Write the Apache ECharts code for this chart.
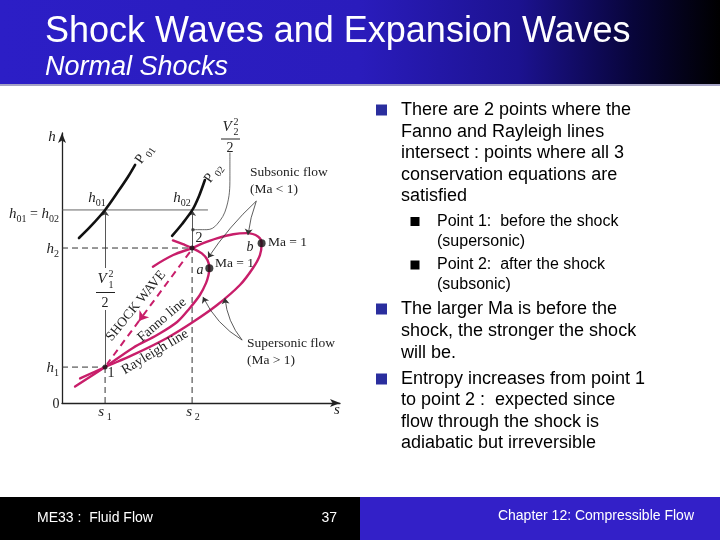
<!DOCTYPE html>
<html><head><meta charset="utf-8">
<script src="https://cdn.jsdelivr.net/npm/echarts@6/dist/echarts.min.js"></script>
<style>html,body{margin:0;padding:0;background:#fff}#main{width:720px;height:540px}</style>
</head><body><div id="main"></div>
<script>
// ---------- data (entropy s, enthalpy h in diagram units) ----------
const fannoS = [0.47, 1.55, 2.55, 3.42, 4.14, 4.60, 4.96, 5.18, 5.27, 5.30, 5.23, 5.03, 4.68, 4.35, 3.99];
const fannoH = [0.61, 1.33, 2.04, 2.52, 3.00, 3.52, 4.00, 4.44, 4.74, 4.99, 5.30, 5.54, 5.74, 5.88, 6.02];
const rayleighS = [0.65, 1.55, 2.55, 3.78, 4.71, 5.58, 6.40, 6.87, 7.12, 7.18, 7.06, 6.64, 6.16, 5.57, 5.08, 4.68, 4.00, 3.27];
const rayleighH = [0.91, 1.33, 1.78, 2.41, 3.00, 3.63, 4.37, 5.00, 5.48, 5.92, 6.16, 6.29, 6.25, 6.10, 5.92, 5.74, 5.48, 5.05];
const p01S = [0.61, 1.01, 1.55, 2.01, 2.37, 2.63];
const p01H = [6.11, 6.52, 7.15, 7.82, 8.37, 8.82];
const p02S = [3.96, 4.32, 4.69, 4.93, 5.14];
const p02H = [6.19, 6.63, 7.15, 7.67, 8.26];
const leaderS = [6.04, 6.04, 5.92, 5.57, 5.21, 4.71];
const leaderH = [9.26, 8.37, 7.26, 6.61, 6.42, 6.42];
const s1 = 1.55, s2 = 4.68;
const h1 = 1.33, h2 = 5.74, h0 = 7.15;
const h0LineEnd = 5.25;
const pointA = [5.30, 4.99];
const pointB = [7.18, 5.92];
const shockStart = [4.60, 5.59], shockArrow = [2.77, 3.04], shockEnd = [1.62, 1.44];
const subsonicFrom = [6.99, 7.48], subsonicTo = [[6.69, 6.22], [5.25, 5.37]];
const supersonicFrom = [6.48, 2.33], supersonicTo = [[5.07, 3.93], [5.86, 3.89]];
const axisMax = 10;

const titleText = "Shock Waves and Expansion Waves";
const subtitleText = "Normal Shocks";
const bullet1 = ["There are 2 points where the", "Fanno and Rayleigh lines", "intersect : points where all 3", "conservation equations are", "satisfied"];
const sub1 = ["Point 1:  before the shock", "(supersonic)"];
const sub2 = ["Point 2:  after the shock", "(subsonic)"];
const bullet2 = ["The larger Ma is before the", "shock, the stronger the shock", "will be."];
const bullet3 = ["Entropy increases from point 1", "to point 2 :  expected since", "flow through the shock is", "adiabatic but irreversible"];
const footerLeft = "ME33 :  Fluid Flow";
const footerPage = "37";
const footerRight = "Chapter 12: Compressible Flow";

// ---------- chart ----------
const zip = (a, b) => a.map((v, i) => [v, b[i]]);
const MAG = '#c81e6a';
const INK = '#222';
const SERIF = '"Liberation Serif", "DejaVu Serif", serif';
const SANS = '"Liberation Sans", Arial, sans-serif';

function seg(data, color, width, type) {
  return {type: 'line', data, symbol: 'none', silent: true, z: 3,
    lineStyle: {color, width, type: type || 'solid'}};
}
function curve(data, color, width, smooth) {
  return {type: 'line', data, symbol: 'none', silent: true, smooth: smooth, z: 4,
    lineStyle: {color, width, cap: 'round'}};
}

const chart = echarts.init(document.getElementById('main'));
const axisCommon = {
  type: 'value', min: 0, max: axisMax,
  axisLine: {show: true, onZero: false, symbol: ['none', 'arrow'], symbolSize: [6, 10],
    lineStyle: {color: INK, width: 1.3}},
  axisTick: {show: false}, axisLabel: {show: false}, splitLine: {show: false}
};

const option = {
  animation: false,
  grid: {left: 62, top: 133, width: 278, height: 270},
  xAxis: axisCommon,
  yAxis: axisCommon,
  series: [
    seg([[0, h0], [h0LineEnd, h0]], '#555', 0.9),
    seg([[0, h2], [s2, h2]], '#333', 1, [6, 4]),
    seg([[0, h1], [s1, h1]], '#333', 1, [6, 4]),
    seg([[s1, 0], [s1, h1]], '#333', 1, [6, 4]),
    seg([[s2, 0], [s2, h2]], '#333', 1, [6, 4]),
    curve(zip(leaderS, leaderH), '#444', 0.8, 0.4),
    curve(zip(p01S, p01H), '#111', 2.6, 0.3),
    curve(zip(p02S, p02H), '#111', 2.6, 0.3),
    curve(zip(fannoS, fannoH), MAG, 2.4, 0.35),
    curve(zip(rayleighS, rayleighH), MAG, 2.4, 0.35),
    {type: 'lines', coordinateSystem: 'cartesian2d', silent: true, z: 3,
      symbol: ['none', 'arrow'], symbolSize: 6,
      lineStyle: {color: '#444', width: 0.9, opacity: 1},
      data: [{coords: [[s1, h1], [s1, h0]]}, {coords: [[s2, h2], [s2, h0]]}]},
    {type: 'lines', coordinateSystem: 'cartesian2d', silent: true, z: 5,
      symbol: ['none', 'arrow'], symbolSize: 9,
      lineStyle: {color: MAG, width: 2, type: [7, 5], opacity: 1},
      data: [{coords: [shockStart, shockArrow]}]},
    {type: 'lines', coordinateSystem: 'cartesian2d', silent: true, z: 5,
      symbol: 'none',
      lineStyle: {color: MAG, width: 2, type: [7, 5], opacity: 1},
      data: [{coords: [shockArrow, shockEnd]}]},
    {type: 'lines', coordinateSystem: 'cartesian2d', silent: true, z: 5,
      symbol: ['none', 'arrow'], symbolSize: 6,
      lineStyle: {color: '#333', width: 0.8, curveness: -0.06, opacity: 1},
      data: subsonicTo.map(t => ({coords: [subsonicFrom, t]}))},
    {type: 'lines', coordinateSystem: 'cartesian2d', silent: true, z: 5,
      symbol: ['none', 'arrow'], symbolSize: 6,
      lineStyle: {color: '#333', width: 0.8, curveness: 0.15, opacity: 1},
      data: supersonicTo.map(t => ({coords: [supersonicFrom, t]}))},
    {type: 'scatter', silent: true, z: 6, symbolSize: 5, itemStyle: {color: '#111'},
      data: [[s1, h1], [s2, h2]]},
    {type: 'scatter', silent: true, z: 6, symbolSize: 3.5, itemStyle: {color: '#333'},
      data: [[leaderS[leaderS.length - 1], leaderH[leaderH.length - 1]]]},
    {type: 'scatter', silent: true, z: 6, symbolSize: 8, itemStyle: {color: '#111'},
      data: [pointA, pointB]}
  ]
};
chart.setOption(option);

// ---------- text & slide chrome ----------
const RICH = {
  i: {fontFamily: SERIF, fontStyle: 'italic', fontSize: 15, lineHeight: 20, verticalAlign: 'middle', fill: INK},
  r: {fontFamily: SERIF, fontSize: 14, lineHeight: 20, verticalAlign: 'middle', fill: INK},
  sb: {fontFamily: SERIF, fontSize: 10, lineHeight: 9, verticalAlign: 'bottom', fill: INK},
  sp: {fontFamily: SERIF, fontSize: 10, lineHeight: 9, verticalAlign: 'top', fill: INK}
};
function lab(x, y, text, o) {
  o = o || {};
  return {type: 'text', x, y, z: 100, rotation: (o.rot || 0) * Math.PI / 180,
    style: {text, rich: RICH, font: o.font || ('13.5px ' + SERIF), fill: o.fill || INK,
      align: o.align || 'center', verticalAlign: 'middle',
      textAlign: o.align || 'center', textVerticalAlign: 'middle'}};
}
function sans(x, y, text, size, fill, o) {
  o = o || {};
  return {type: 'text', x, y, z: 100,
    style: {text, font: (o.italic ? 'italic ' : '') + size + 'px ' + SANS, fill,
      align: o.align || 'left', verticalAlign: 'middle',
      textAlign: o.align || 'left', textVerticalAlign: 'middle'}};
}
function rect(x, y, w, h, fill, z) {
  return {type: 'rect', z: z || 90, shape: {x, y, width: w, height: h}, style: {fill}};
}
function hline(x1, x2, y) {
  return {type: 'line', z: 100, shape: {x1, y1: y, x2, y2: y}, style: {stroke: INK, lineWidth: 1}};
}

const g = [];
// title bar
g.push({type: 'rect', z: 80, shape: {x: 0, y: 0, width: 720, height: 85},
  style: {fill: new echarts.graphic.LinearGradient(0, 0, 1, 0, [
    {offset: 0, color: '#2c1ec6'}, {offset: 0.5, color: '#2a1cbc'},
    {offset: 0.72, color: '#1c1290'}, {offset: 0.88, color: '#08053a'}, {offset: 1, color: '#000'}])}});
g.push(rect(0, 84, 720, 2, '#a4a2c4', 81));
g.push(sans(45, 32, titleText, 36, '#fff'));
g.push(sans(45, 67, subtitleText, 27, '#fff', {italic: true}));
// footer
g.push(rect(0, 497, 360, 43, '#000', 80));
g.push(rect(360, 497, 360, 43, '#3320c8', 80));
g.push(sans(37, 518, footerLeft, 14, '#fff'));
g.push(sans(337, 518, footerPage, 14, '#fff', {align: 'right'}));
g.push(sans(694, 516, footerRight, 14, '#fff', {align: 'right'}));

// bullets
const BLUE = '#2a2e9e';
function block(lines, y0, step, x, size) {
  lines.forEach((t, i) => g.push(sans(x, y0 + i * step, t, size, '#000')));
}
g.push(rect(376, 104.5, 11, 11, BLUE, 95));
block(bullet1, 110, 21.6, 401, 18);
g.push(rect(410.5, 217, 9, 9, '#000', 95));
block(sub1, 221.7, 20, 437, 16);
g.push(rect(410.5, 260.5, 9, 9, '#000', 95));
block(sub2, 265, 20, 437, 16);
g.push(rect(376, 303.5, 11, 11, BLUE, 95));
block(bullet2, 309.3, 21.7, 401, 18);
g.push(rect(376, 373.5, 11, 11, BLUE, 95));
block(bullet3, 379, 21.5, 401, 18);

// diagram labels
g.push(lab(52, 137, '{i|h}'));
g.push(lab(56, 404, '{r|0}'));
g.push(lab(59, 214, '{i|h}{sb|01}{r| = }{i|h}{sb|02}', {align: 'right'}));
g.push(lab(59, 249, '{i|h}{sb|2}', {align: 'right'}));
g.push(lab(59, 368, '{i|h}{sb|1}', {align: 'right'}));
g.push(lab(105, 412, '{i|s}{sb| 1}'));
g.push(lab(193, 412, '{i|s}{sb| 2}'));
g.push(lab(337, 410, '{i|s}'));
g.push(lab(97, 198, '{i|h}{sb|01}'));
g.push(lab(182, 198, '{i|h}{sb|02}'));
g.push(lab(144, 154, '{r|P}{sb| 01}', {rot: 55}));
g.push(lab(213, 173, '{r|P}{sb| 02}', {rot: 55}));
// V1^2/2 fraction
g.push(rect(94, 268, 23, 42, '#fff', 98));
g.push(lab(102, 279, '{i|V}'));
g.push(lab(111, 274, '2', {font: '10px ' + SERIF}));
g.push(lab(111, 285, '1', {font: '10px ' + SERIF}));
g.push(hline(96, 115, 292.5));
g.push(lab(105, 303, '2', {font: '14px ' + SERIF}));
// V2^2/2 fraction
g.push(lab(227, 127, '{i|V}'));
g.push(lab(236, 122, '2', {font: '10px ' + SERIF}));
g.push(lab(236, 132, '2', {font: '10px ' + SERIF}));
g.push(hline(221, 240, 139));
g.push(lab(230, 148, '2', {font: '14px ' + SERIF}));
// points
g.push(lab(199, 238, '2', {font: '14px ' + SERIF}));
g.push(lab(111, 373, '1', {font: '14px ' + SERIF}));
g.push(lab(200, 270, 'a', {font: 'italic 14px ' + SERIF}));
g.push(lab(250, 247, 'b', {font: 'italic 14px ' + SERIF}));
g.push(lab(215, 263, 'Ma = 1', {align: 'left'}));
g.push(lab(268, 242, 'Ma = 1', {align: 'left'}));
g.push(lab(250, 172, 'Subsonic flow', {align: 'left'}));
g.push(lab(250, 189, '(Ma < 1)', {align: 'left'}));
g.push(lab(247, 343, 'Supersonic flow', {align: 'left'}));
g.push(lab(247, 360, '(Ma > 1)', {align: 'left'}));
g.push(lab(136, 306, 'SHOCK WAVE', {rot: 51}));
g.push(lab(162, 320, 'Fanno line', {rot: 41, font: '14px ' + SERIF}));
g.push(lab(155, 352, 'Rayleigh line', {rot: 31, font: '14px ' + SERIF}));

chart.setOption({graphic: {elements: g}});
</script>
</body></html>
